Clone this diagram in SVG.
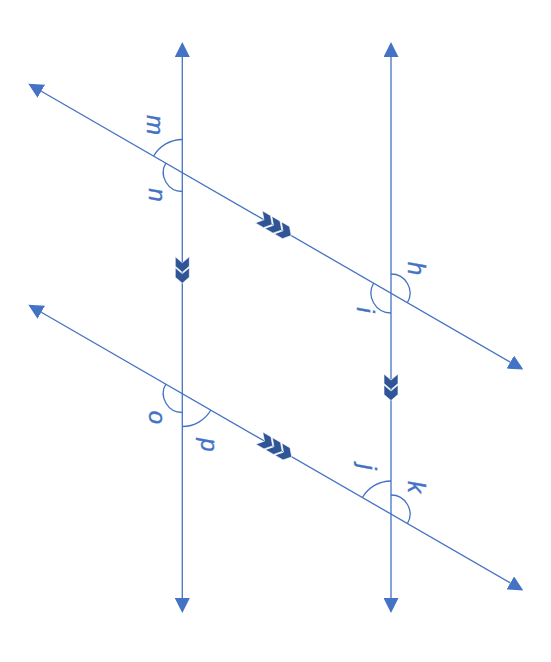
<svg xmlns="http://www.w3.org/2000/svg" width="551" height="662" viewBox="0 0 551 662">
<style>
.ln{stroke:#4472C4;stroke-width:1.3;fill:none;marker-start:url(#ah);marker-end:url(#ah)}
.arc{stroke:#4472C4;stroke-width:1.3;fill:none}
.lbl{font-family:"Liberation Sans",Arial,sans-serif;font-style:italic;font-size:24px;fill:#4472C4;stroke:#4472C4;stroke-width:0.4;text-anchor:middle}
.chev{fill:#2F5597;stroke:#ffffff;stroke-width:0.6}
</style>
<defs>
<marker id="ah" viewBox="0 0 15 15" refX="0" refY="7.5" markerWidth="15" markerHeight="15" markerUnits="userSpaceOnUse" orient="auto-start-reverse">
<path d="M0,0 L15,7.5 L0,15 Z" fill="#4472C4"/>
</marker>
<path id="cv" class="chev" d="M0,-7 L9.5,-7 L15.5,0 L9.5,7 L0,7 L6,0 Z"/>
<g id="cv2"><use href="#cv" x="-13.25"/><use href="#cv" x="-2.25"/></g>
<g id="cv3"><use href="#cv" x="-18.75"/><use href="#cv" x="-7.75"/><use href="#cv" x="3.25"/></g>
</defs>
<rect width="551" height="662" fill="#ffffff"/>
<g id="connectors">
<line class="ln" x1="182.3" y1="57" x2="182.3" y2="598"/>
<line class="ln" x1="391" y1="57" x2="391" y2="598"/>
<line class="ln" x1="41.3" y1="91.25" x2="510.3" y2="362.1"/>
<line class="ln" x1="41.3" y1="312.25" x2="510.3" y2="582.9"/>
</g>
<g id="parallel-marks">
<use href="#cv2" transform="translate(182.3,270) rotate(90)"/>
<use href="#cv2" transform="translate(391,387.3) rotate(90)"/>
<use href="#cv3" transform="translate(275,226.2) rotate(30)"/>
<use href="#cv3" transform="translate(275.5,447.5) rotate(30)"/>
</g>
<g id="angle-m"><path class="arc" d="M182.3,139.5 A33,33 0 0 0 153.7,156"/><text class="lbl" transform="translate(153,125) rotate(90)" y="6.2">m</text></g>
<g id="angle-n"><path class="arc" d="M165.85,163 A19,19 0 0 0 182.3,191.5"/><text class="lbl" transform="translate(155,195) rotate(90)" y="6.2">n</text></g>
<g id="angle-h"><path class="arc" d="M391,274 A19,19 0 0 1 407.45,302.5"/><text class="lbl" transform="translate(414,268.5) rotate(90)" y="6.2">h</text></g>
<g id="angle-i"><path class="arc" d="M373.7,283 A20,20 0 0 0 391,313"/><text class="lbl" transform="translate(363,310) rotate(90)" y="6.2">i</text></g>
<g id="angle-o"><path class="arc" d="M165.85,384 A19,19 0 0 0 182.3,412.5"/><text class="lbl" transform="translate(155,417.5) rotate(90)" y="6.2">o</text></g>
<g id="angle-p"><path class="arc" d="M182.3,426.5 A33,33 0 0 0 210.9,410"/><text class="lbl" transform="translate(207,445) rotate(90)" y="6.2">p</text></g>
<g id="angle-j"><path class="arc" d="M362.4,497.5 A33,33 0 0 1 391,481"/><text class="lbl" transform="translate(365,467) rotate(90)" y="6.2">j</text></g>
<g id="angle-k"><path class="arc" d="M391,495 A19,19 0 0 1 407.45,523.5"/><text class="lbl" transform="translate(414,487) rotate(90)" y="6.2">k</text></g>
</svg>
